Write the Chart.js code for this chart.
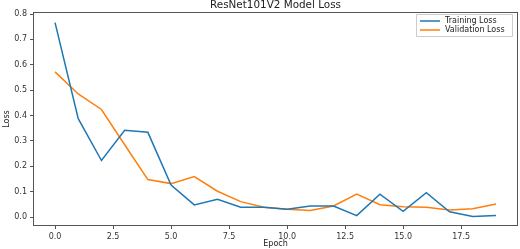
<!DOCTYPE html>
<html>
<head>
<meta charset="utf-8">
<script src="https://cdn.jsdelivr.net/npm/chart.js@4/dist/chart.umd.min.js"></script>
<style>
  html, body { margin: 0; padding: 0; background: #fff; }
  #wrap { width: 520px; height: 249px; }
</style>
</head>
<body>
<div id="wrap"><canvas id="lossChart" width="520" height="249"></canvas></div>
<script>
var epochs = [0, 1, 2, 3, 4, 5, 6, 7, 8, 9, 10, 11, 12, 13, 14, 15, 16, 17, 18, 19];
var trainingLoss = [0.766, 0.388, 0.223, 0.342, 0.334, 0.126, 0.048, 0.070, 0.039, 0.039,
                    0.031, 0.044, 0.044, 0.006, 0.090, 0.023, 0.096, 0.021, 0.002, 0.006];
var validationLoss = [0.572, 0.485, 0.424, 0.285, 0.148, 0.132, 0.160, 0.102, 0.061, 0.039,
                      0.031, 0.026, 0.044, 0.091, 0.049, 0.041, 0.039, 0.028, 0.033, 0.052];
var xTicks = [0, 2.5, 5, 7.5, 10, 12.5, 15, 17.5];
var yTicks = [0, 0.1, 0.2, 0.3, 0.4, 0.5, 0.6, 0.7, 0.8];

var BLUE = '#1f77b4';
var ORANGE = '#ff7f0e';
var FONT = 'DejaVu Sans';

function toPoints(vals) {
  return vals.map((v, i) => ({ x: epochs[i], y: v }));
}

// frame, title and legend drawn like matplotlib
var mplDecor = {
  id: 'mplDecor',
  afterDraw: function (chart) {
    var a = chart.chartArea;
    var c = chart.ctx;
    c.save();
    c.strokeStyle = '#555';
    c.lineWidth = 1;
    c.strokeRect(a.left + 0.5, a.top + 0.5, a.right - a.left - 1, a.bottom - a.top - 1);

    c.fillStyle = '#222';
    c.font = '10.4px "' + FONT + '"';
    c.textAlign = 'center';
    c.textBaseline = 'middle';
    c.fillText('ResNet101V2 Model Loss', (a.left + a.right) / 2, 5);

    // legend box
    var lx = 416, ly = 14, lw = 96, lh = 22;
    c.strokeStyle = '#ccc';
    c.fillStyle = 'rgba(255,255,255,0.8)';
    c.beginPath();
    c.rect(lx + 0.5, ly + 0.5, lw, lh);
    c.fill();
    c.stroke();
    var items = [['Training Loss', BLUE, 21], ['Validation Loss', ORANGE, 30]];
    c.font = '8px "' + FONT + '"';
    c.textAlign = 'left';
    items.forEach(function (it) {
      c.strokeStyle = it[1];
      c.lineWidth = 1.5;
      c.beginPath();
      c.moveTo(420, it[2]);
      c.lineTo(440, it[2]);
      c.stroke();
      c.fillStyle = '#222';
      c.fillText(it[0], 445, it[2]);
    });
    c.restore();
  }
};

var ctx = document.getElementById('lossChart').getContext('2d');
new Chart(ctx, {
  type: 'line',
  data: {
    datasets: [
      {
        label: 'Training Loss',
        data: toPoints(trainingLoss),
        borderColor: BLUE,
        borderWidth: 1.5,
        pointRadius: 0,
        tension: 0,
        fill: false
      },
      {
        label: 'Validation Loss',
        data: toPoints(validationLoss),
        borderColor: ORANGE,
        borderWidth: 1.5,
        pointRadius: 0,
        tension: 0,
        fill: false
      }
    ]
  },
  options: {
    responsive: false,
    animation: false,
    layout: { padding: { left: 2, right: 2, top: 12, bottom: 0 } },
    plugins: {
      legend: { display: false },
      title: { display: false },
      tooltip: { enabled: false }
    },
    scales: {
      x: {
        type: 'linear',
        min: -0.95,
        max: 19.95,
        afterBuildTicks: function (s) { s.ticks = xTicks.map(v => ({ value: v })); },
        afterFit: function (s) { s.height = 23; },
        grid: { display: true, drawOnChartArea: false, drawTicks: true, tickLength: 3, color: '#555' },
        border: { display: false },
        ticks: {
          color: '#333',
          padding: 3,
          maxRotation: 0,
          font: { family: FONT, size: 8 },
          callback: function (v) { return v.toFixed(1); }
        },
        title: {
          display: true,
          text: 'Epoch',
          color: '#222',
          padding: { top: 0, bottom: 0 },
          font: { family: FONT, size: 8 }
        }
      },
      y: {
        type: 'linear',
        min: -0.035,
        max: 0.808,
        afterBuildTicks: function (s) { s.ticks = yTicks.map(v => ({ value: v })); },
        afterFit: function (s) { s.width = 31; },
        grid: { display: true, drawOnChartArea: false, drawTicks: true, tickLength: 3, color: '#555' },
        border: { display: false },
        ticks: {
          color: '#333',
          padding: 3,
          font: { family: FONT, size: 8 },
          callback: function (v) { return v.toFixed(1); }
        },
        title: {
          display: true,
          text: 'Loss',
          color: '#222',
          padding: { top: 0, bottom: 0 },
          font: { family: FONT, size: 8 }
        }
      }
    }
  },
  plugins: [mplDecor]
});
</script>
</body>
</html>
